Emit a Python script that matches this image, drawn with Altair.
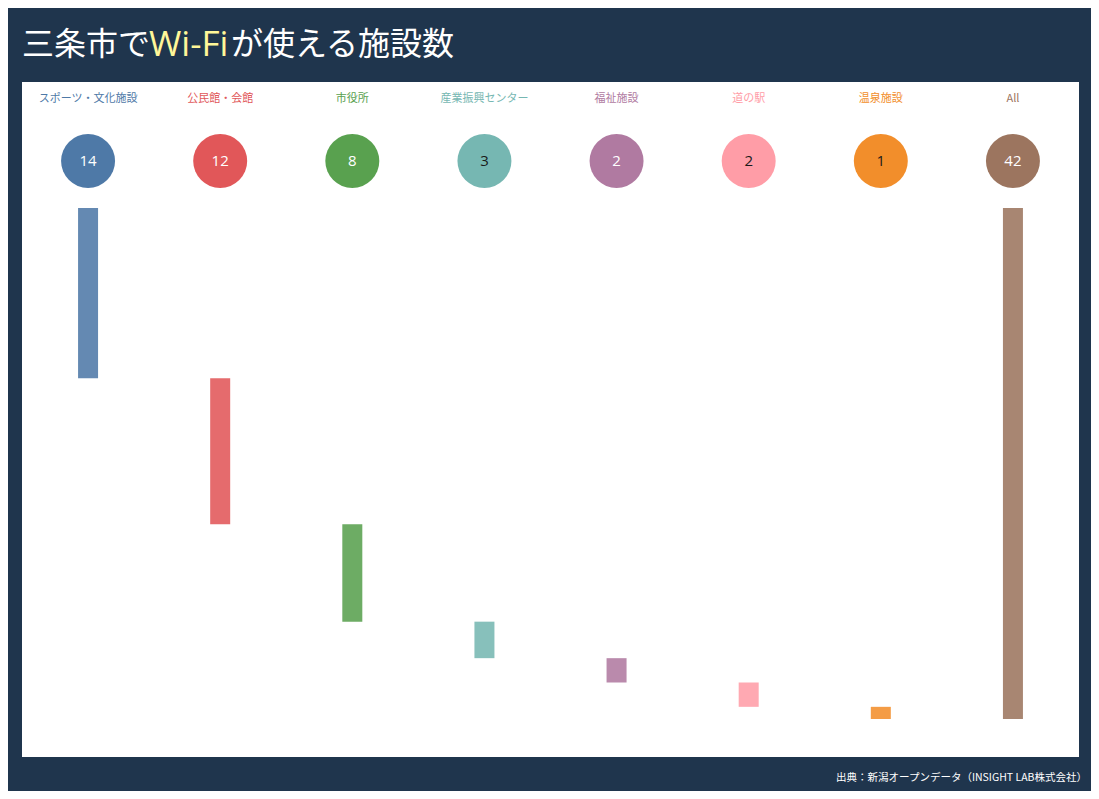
import altair as alt
import pandas as pd

categories = ["スポーツ・文化施設", "公民館・会館", "市役所", "産業振興センター", "福祉施設", "道の駅", "温泉施設", "All"]
counts = [14, 12, 8, 3, 2, 2, 1, 42]
colors = ["#4e79a7", "#e15759", "#59a14f", "#76b7b2", "#b07aa1", "#ff9da7", "#f28e2b", "#9c755f"]
number_colors = ["#ffffff", "#ffffff", "#ffffff", "#1a1a1a", "#ffffff", "#1a1a1a", "#1a1a1a", "#ffffff"]

title_parts = ["三条市で", "Wi-Fi", "が使える施設数"]
source_text = "出典：新潟オープンデータ（INSIGHT LAB株式会社）"

starts, ends = [], []
running = 0
for c, v in zip(categories, counts):
    if c == "All":
        starts.append(0)
        ends.append(v)
    else:
        starts.append(running)
        running += v
        ends.append(running)

df = pd.DataFrame({
    "cat": categories,
    "count": counts,
    "start": starts,
    "end": ends,
    "numcolor": number_colors,
})

FONT = "Noto Sans CJK JP"
W, H = 1057, 675
BG = "#1f354d"

xenc = alt.X("cat:N", sort=categories, axis=None,
             scale=alt.Scale(paddingInner=0, paddingOuter=0))
color = alt.Color("cat:N", scale=alt.Scale(domain=categories, range=colors), legend=None)

base = alt.Chart(df)

labels = base.mark_text(font=FONT, fontSize=11, baseline="middle").encode(
    x=xenc, y=alt.value(17), text="cat:N", color=color)

circles = base.mark_circle(size=2916, opacity=1).encode(
    x=xenc, y=alt.value(79), color=color)

numbers = base.mark_text(font="Open Sans", fontSize=15, baseline="middle").encode(
    x=xenc, y=alt.value(79), text="count:Q",
    color=alt.Color("numcolor:N", scale=None))

bars = base.mark_bar(size=20, opacity=0.88).encode(
    x=xenc,
    y=alt.Y("start:Q", axis=None, scale=alt.Scale(domain=[0, 42], range=[126, 637], nice=False, zero=False)),
    y2="end:Q",
    color=color)

one = pd.DataFrame({"t": [0]})
t1 = alt.Chart(one).mark_text(text=title_parts[0], font=FONT, fontSize=32, color="#ffffff",
                              align="left", baseline="middle").encode(x=alt.value(0), y=alt.value(-37))
t2 = alt.Chart(one).mark_text(text=title_parts[1], font="Open Sans", fontSize=35, fontWeight=500, color="#fff799",
                              align="left", baseline="middle").encode(x=alt.value(127), y=alt.value(-37))
t3 = alt.Chart(one).mark_text(text=title_parts[2], font=FONT, fontSize=32, color="#ffffff",
                              align="left", baseline="middle").encode(x=alt.value(209), y=alt.value(-37))
src = alt.Chart(one).mark_text(text=source_text, font=FONT, fontSize=10.5, color="#ffffff",
                               align="right", baseline="middle").encode(x=alt.value(1065), y=alt.value(696))

chart = alt.layer(bars, circles, numbers, labels, t1, t2, t3, src).properties(
    width=W, height=H,
    background=BG,
    padding={"left": 14, "top": 74, "right": 12, "bottom": 34},
    autosize=alt.AutoSizeParams(type="none"),
).configure_view(fill="#ffffff", stroke=None)

chart.save("out.html", embed_options={"renderer": "svg", "actions": False})
